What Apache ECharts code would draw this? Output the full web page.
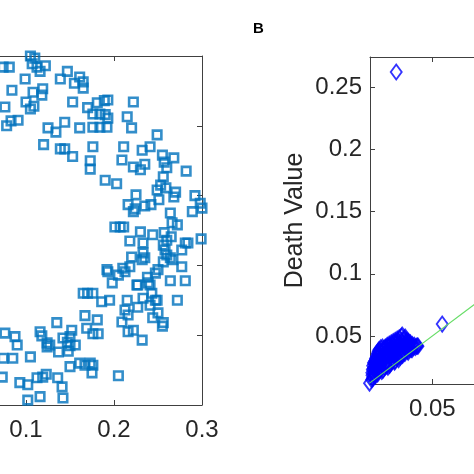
<!DOCTYPE html>
<html><head><meta charset="utf-8">
<script src="https://cdn.jsdelivr.net/npm/echarts@6/dist/echarts.min.js"></script>
<style>html,body{margin:0;padding:0;background:#fff}#c{width:474px;height:474px}</style>
</head><body><div id="c"></div>
<script>
// Panel A: point cloud (ring)
const ringX = [0.105,0.110,0.107,0.1125,0.116,0.122,0.074,0.081,0.099,0.084,0.108,0.119,0.118,0.100,0.076,0.105,0.109,0.083,0.078,0.091,
0.147,0.139,0.155,0.161,0.165,0.165,0.153,0.125,0.134,0.144,0.161,0.170,0.176,0.184,0.181,0.189,0.193,0.190,0.193,0.192,
0.176,0.184,0.222,0.215,0.220,0.249,0.120,0.139,0.144,0.153,0.176,0.173,0.173,0.211,0.232,0.241,0.209,0.222,0.230,0.235,
0.255,0.257,0.268,0.260,0.282,0.190,0.203,0.256,0.253,0.259,0.270,0.249,0.225,0.216,0.224,0.235,0.242,0.292,0.298,0.300,
0.289,0.251,0.268,0.264,0.266,0.272,0.201,0.207,0.211,0.222,0.230,0.218,0.233,0.244,0.257,0.260,0.265,0.299,0.284,0.277,
0.233,0.258,0.256,0.264,0.232,0.220,0.235,0.260,0.256,0.267,0.277,0.281,0.264,0.247,0.238,0.226,0.239,0.243,0.249,0.250,
0.256,0.255,0.244,0.233,0.227,0.215,0.2125,0.209,0.216,0.222,0.232,0.272,0.193,0.198,0.205,0.2125,0.218,0.186,0.195,0.165,
0.170,0.176,0.167,0.181,0.169,0.176,0.182,0.135,0.152,0.142,0.147,0.150,0.150,0.148,0.156,0.127,0.124,0.116,0.118,0.0875,
0.076,0.090,0.074,0.085,0.105,0.073,0.093,0.102,0.1125,0.119,0.123,0.136,0.141,0.116,0.102,0.142,0.161,0.167,0.173,0.176,
0.175,0.150,0.205,0.124,0.137,0.192,0.210,0.250,0.281,0.241,0.227,0.241,0.216,0.247];
const ringY = [0.200,0.197,0.189,0.184,0.178,0.186,0.184,0.184,0.167,0.151,0.148,0.153,0.144,0.134,0.127,0.124,0.128,0.107,0.100,0.108,
0.178,0.167,0.161,0.170,0.163,0.154,0.134,0.097,0.091,0.105,0.097,0.126,0.117,0.117,0.133,0.136,0.137,0.116,0.111,0.098,
0.098,0.098,0.134,0.113,0.097,0.087,0.073,0.067,0.067,0.056,0.070,0.050,0.038,0.070,0.065,0.070,0.051,0.041,0.037,0.045,
0.058,0.048,0.054,0.040,0.035,0.022,0.017,0.027,0.015,0.011,0.005,0.008,0.001,-0.013,-0.019,-0.015,-0.013,0.000,-0.011,-0.018,
-0.023,-0.006,-0.002,-0.025,-0.039,-0.042,-0.045,-0.045,-0.045,-0.023,-0.052,-0.065,-0.068,-0.056,-0.053,-0.064,-0.059,-0.062,-0.068,-0.078,
-0.082,-0.078,-0.071,-0.089,-0.092,-0.088,-0.089,-0.085,-0.095,-0.092,-0.102,-0.122,-0.122,-0.111,-0.117,-0.128,-0.125,-0.140,-0.150,-0.168,
-0.182,-0.187,-0.175,-0.147,-0.160,-0.150,-0.164,-0.181,-0.195,-0.193,-0.207,-0.150,-0.109,-0.125,-0.114,-0.109,-0.102,-0.152,-0.150,-0.140,
-0.140,-0.140,-0.172,-0.178,-0.190,-0.198,-0.198,-0.182,-0.193,-0.204,-0.210,-0.202,-0.215,-0.223,-0.214,-0.214,-0.211,-0.195,-0.201,-0.202,
-0.197,-0.214,-0.233,-0.233,-0.231,-0.260,-0.268,-0.271,-0.261,-0.260,-0.256,-0.261,-0.274,-0.288,-0.293,-0.290,-0.240,-0.243,-0.240,-0.243,
-0.254,-0.245,-0.258,-0.217,-0.224,-0.106,-0.104,-0.106,-0.068,-0.128,-0.128,-0.157,-0.171,-0.150];

// Panel B: persistence diagram (birth, death)
const pdBirth = [0.0283,0.0560,0.0122,
0.0135,0.0137,0.0139,0.0141,0.0143,0.0146,0.0148,0.0151,0.0153,0.0156,0.0158,0.0161,0.0164,0.0166,0.0169,0.0171,0.0174,0.0177,0.0180,0.0183,
0.0186,0.0190,0.0193,0.0196,0.0200,0.0205,0.0209,0.0213,0.0217,0.0221,0.0225,0.0229,0.0233,0.0237,0.0241,0.0245,0.0249,0.0253,0.0257,0.0261,
0.0265,0.0269,0.0273,0.0277,0.0281,0.0285,0.0289,0.0293,0.0297,0.0301,0.0305,0.0309,0.0314,0.0319,0.0323,0.0327,0.0332,0.0337,0.0342,0.0347,
0.0352,0.0357,0.0362,0.0368,0.0374,0.0380,0.0386,0.0392,0.0398,0.0404,0.0410,0.0414,
0.0136,0.0140,0.0144,0.0149,0.0152,0.0155,0.0159,0.0162,0.0165,0.0168,0.0172,0.0175,0.0178,0.0182,0.0185,0.0188,0.0192,0.0195,0.0199,0.0203,
0.0207,0.0211,0.0215,0.0219,0.0223,0.0227,0.0231,0.0235,0.0239,0.0243,0.0247,0.0251,0.0255,0.0259,0.0263,0.0267,0.0271,0.0275,0.0279,0.0283,
0.0287,0.0291,0.0295,0.0299,0.0303,0.0307,0.0312,0.0317,0.0321,0.0325,0.0330,0.0335,0.0340,0.0345,0.0350,0.0355,0.0360,0.0366,0.0372,0.0378];
const pdDeath = [0.2620,0.0596,0.0122,
0.0150,0.0185,0.0230,0.0262,0.0170,0.0285,0.0205,0.0250,0.0300,0.0178,0.0320,0.0228,0.0340,0.0270,0.0360,0.0195,0.0378,0.0300,0.0392,0.0240,
0.0345,0.0405,0.0275,0.0215,0.0412,0.0396,0.0320,0.0250,0.0412,0.0365,0.0290,0.0425,0.0250,0.0345,0.0435,0.0390,0.0280,0.0445,0.0355,0.0310,
0.0455,0.0410,0.0290,0.0465,0.0375,0.0330,0.0475,0.0425,0.0310,0.0485,0.0395,0.0350,0.0498,0.0508,0.0440,0.0370,0.0480,0.0492,0.0420,0.0465,
0.0380,0.0455,0.0410,0.0445,0.0395,0.0432,0.0410,0.0425,0.0408,0.0418,0.0420,0.0419,
0.0205,0.0160,0.0240,0.0275,0.0190,0.0235,0.0285,0.0310,0.0200,0.0250,0.0330,0.0220,0.0355,0.0280,0.0380,0.0320,0.0240,0.0370,0.0300,0.0225,
0.0355,0.0400,0.0275,0.0330,0.0410,0.0260,0.0380,0.0310,0.0415,0.0265,0.0330,0.0405,0.0300,0.0380,0.0430,0.0340,0.0385,0.0300,0.0440,0.0355,
0.0400,0.0330,0.0455,0.0370,0.0430,0.0330,0.0465,0.0385,0.0345,0.0420,0.0460,0.0360,0.0445,0.0395,0.0430,0.0370,0.0430,0.0395,0.0420,0.0390];
const diagEnds = [0.0122, 0.3];

const leftXTicks = [0.1, 0.2, 0.3];
const leftYTicks = [-0.3, -0.2, -0.1, 0, 0.1, 0.2];
const pdTicks = [0.05, 0.1, 0.15, 0.2, 0.25];

const axisColor = '#404040';
const labelStyle = {color:'#262626', fontSize:24, fontFamily:'Liberation Sans, Arial, sans-serif'};
function ax(o, ticks, showLbl, margin){
  return Object.assign({
    type:'value',
    axisLine:{show:true,onZero:false,lineStyle:{color:axisColor,width:1}},
    axisTick:{show:true,inside:true,length:5,customValues:ticks,lineStyle:{color:axisColor,width:1}},
    splitLine:{show:false},
    axisLabel:Object.assign({show:showLbl,margin:margin,customValues:ticks},labelStyle)
  }, o);
}

const chart = echarts.init(document.getElementById('c'), null, {renderer:'canvas'});
chart.setOption({
  animation:false,
  backgroundColor:'#fff',
  grid:[
    {left:0, right:272, top:56, bottom:69, containLabel:false},
    {left:370, right:0, top:57, bottom:90, containLabel:false}
  ],
  xAxis:[
    ax({gridIndex:0, position:'bottom', min:0.07045, max:0.3}, leftXTicks, true, 13),
    ax({gridIndex:0, position:'top', min:0.07045, max:0.3}, leftXTicks, false, 13),
    ax({gridIndex:1, position:'bottom', min:0.0125, max:0.07515}, pdTicks, true, 13),
    ax({gridIndex:1, position:'top', min:0.0125, max:0.07515}, pdTicks, false, 13)
  ],
  yAxis:[
    ax({gridIndex:0, position:'left', min:-0.3, max:0.2, show:false}, leftYTicks, false, 8),
    ax({gridIndex:0, position:'right', min:-0.3, max:0.2}, leftYTicks, false, 8),
    ax({gridIndex:1, position:'left', min:0.0115, max:0.274,
        name:'Death Value', nameLocation:'middle', nameGap:62,
        nameTextStyle:{color:'#262626', fontSize:25, fontFamily:'Liberation Sans, Arial, sans-serif'}}, pdTicks, true, 8)
  ],
  graphic:[{type:'text', left:253, top:21, style:{text:'B', font:'bold 15px Liberation Sans, Arial, sans-serif', fill:'#000'}}],
  series:[
    {type:'scatter', xAxisIndex:0, yAxisIndex:0, symbol:'rect', symbolSize:8.5, clip:false,
     itemStyle:{color:'rgba(0,0,0,0)', borderColor:'#0072BD', borderWidth:2.6},
     data: ringX.map((x,i)=>[x, ringY[i]])},
    {type:'scatter', xAxisIndex:2, yAxisIndex:2, symbol:'diamond', symbolSize:[11,15], clip:false,
     itemStyle:{color:'rgba(0,0,0,0)', borderColor:'#0000FF', borderWidth:1.9},
     data: pdBirth.map((x,i)=>[x, pdDeath[i]])},
    {type:'line', xAxisIndex:2, yAxisIndex:2, symbol:'none', z:5, clip:true,
     lineStyle:{color:'#66dd66', width:1.1},
     data: diagEnds.map(v=>[v,v])}
  ]
});
</script></body></html>
